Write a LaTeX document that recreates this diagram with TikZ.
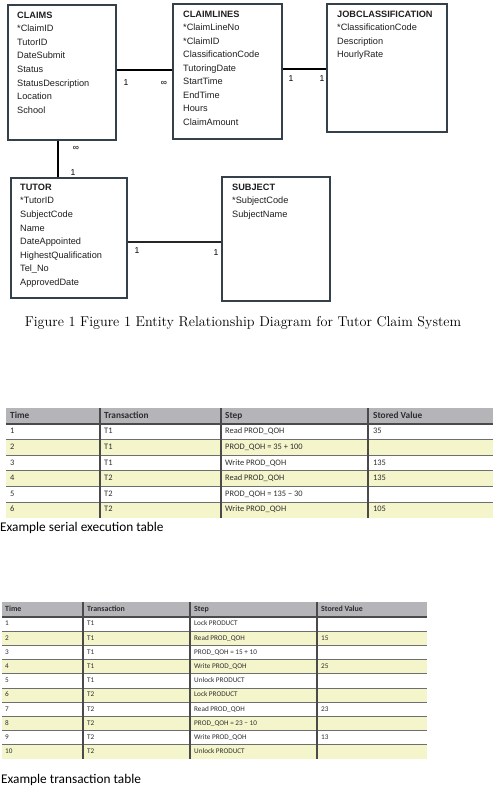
\documentclass[tikz,border=0pt]{standalone}
\usepackage{fontspec}
\newfontfamily\erfont{Liberation Sans}
\newfontfamily\tabfont{Carlito}
\usetikzlibrary{calc}
\definecolor{boxcol}{HTML}{34414B}
\definecolor{hdrgrey}{HTML}{B4B4B9}
\definecolor{rowyel}{HTML}{F5F5CB}
\definecolor{gridcol}{HTML}{4A4A4A}
\definecolor{txtcol}{HTML}{2E2E2E}
\tikzset{
  erbox/.style={draw=boxcol, line width=1.3pt, inner sep=0pt, fill=white},
  ertxt/.style={anchor=west, inner sep=0pt, font=\erfont\fontsize{9.2}{11}\selectfont, text=black!88, text height=6.6pt, text depth=1.9pt},
  conn/.style={line width=2pt, black},
  connthin/.style={line width=1.1pt, black!85},
  card/.style={inner sep=0pt, font=\erfont\fontsize{8.6}{10}\selectfont},
  tabhA/.style={anchor=west, inner sep=0pt, font=\tabfont\bfseries\fontsize{9.3}{11}\selectfont, text=txtcol, text height=6.4pt, text depth=1.7pt},
  tabcA/.style={anchor=west, inner sep=0pt, font=\tabfont\fontsize{8.4}{10}\selectfont, text=txtcol, text height=5.8pt, text depth=1.6pt},
  tabhB/.style={anchor=west, inner sep=0pt, font=\tabfont\bfseries\fontsize{7.9}{9}\selectfont, text=txtcol, text height=5.4pt, text depth=1.5pt},
  tabcB/.style={anchor=west, inner sep=0pt, font=\tabfont\fontsize{7.2}{8.5}\selectfont, text=txtcol, text height=5pt, text depth=1.4pt},
  vline/.style={gridcol, line width=1.3pt},
  hline/.style={gridcol!80, line width=0.8pt},
  caption/.style={inner sep=0pt, anchor=west, font=\tabfont\fontsize{13.3}{15}\selectfont, text=black}
}
\begin{document}
\begin{tikzpicture}[x=1pt,y=-1pt]
\useasboundingbox[fill=white] (0,0) rectangle (496,789);

% ---------------- ER diagram boxes ----------------
\node[erbox, minimum width=108pt, minimum height=135pt] (claims) at (62,72.5) {};
\node[erbox, minimum width=109pt, minimum height=135pt] (claimlines) at (227.5,71.5) {};
\node[erbox, minimum width=120pt, minimum height=128pt] (jobclass) at (387,68) {};
\node[erbox, minimum width=116pt, minimum height=120pt] (tutor) at (69,238) {};
\node[erbox, minimum width=108pt, minimum height=124pt] (subject) at (276,239) {};

\foreach \s [count=\k from 0] in {\textbf{CLAIMS},*ClaimID,TutorID,DateSubmit,Status,StatusDescription,Location,School}
  \node[ertxt] (claims-t\k) at (17,{16+13.55*\k}) {\s};
\foreach \s [count=\k from 0] in {\textbf{CLAIMLINES},*ClaimLineNo,*ClaimID,ClassificationCode,TutoringDate,StartTime,EndTime,Hours,ClaimAmount}
  \node[ertxt] (claimlines-t\k) at (183,{15+13.5*\k}) {\s};
\foreach \s [count=\k from 0] in {\textbf{JOBCLASSIFICATION},*ClassificationCode,Description,HourlyRate}
  \node[ertxt] (jobclass-t\k) at (337,{15+13.5*\k}) {\s};
\foreach \s [count=\k from 0] in {\textbf{TUTOR},*TutorID,SubjectCode,Name,DateAppointed,HighestQualification,Tel\_No,ApprovedDate}
  \node[ertxt] (tutor-t\k) at (20,{188+13.6*\k}) {\s};
\foreach \s [count=\k from 0] in {\textbf{SUBJECT},*SubjectCode,SubjectName}
  \node[ertxt] (subject-t\k) at (232,{188+13.5*\k}) {\s};

% ---------------- connectors ----------------
\coordinate (h1) at ($(claims.east)+(0,-2.5)$);
\draw[conn] (h1) -- (h1 -| claimlines.west);
\coordinate (h2) at ($(claimlines.east)+(0,-2.5)$);
\draw[conn] (h2) -- (h2 -| jobclass.west);
\coordinate (v1) at ($(claims.south)+(-4.5,0)$);
\draw[conn] (v1) -- (v1 |- tutor.north);
\coordinate (h3) at ($(tutor.east)+(0,4)$);
\draw[connthin] (h3) -- (h3 -| subject.west);

\node[card] (c1) at (126,83) {1};
\node[card] (c2) at (164,83) {∞};
\node[card] (c3) at (291,79) {1};
\node[card] (c4) at (322,79) {1};
\node[card] (c5) at (76,148) {∞};
\node[card] (c6) at (73,173) {1};
\node[card] (c7) at (137,251) {1};
\node[card] (c8) at (216,253) {1};

\node[inner sep=0pt, font=\fontsize{14.2}{16}\selectfont] (fig) at (243,323)
  {Figure 1 Figure 1 Entity Relationship Diagram for Tutor Claim System};

% ---------------- Table 1 ----------------
\fill[hdrgrey] (6,408) rectangle (493,424);
\foreach \i in {2,4,6} \fill[rowyel] (6,{424+15.6*(\i-1)}) rectangle (493,{424+15.6*\i});
\draw[gridcol, line width=1.2pt] (6,424) -- (493,424);
\foreach \i in {1,...,5} \draw[hline] (6,{424+15.6*\i}) -- (493,{424+15.6*\i});
\foreach \x in {100,221,368} \draw[vline] (\x,408) -- (\x,517.6);
\node[tabhA] (a-h1) at (10,416) {Time};
\node[tabhA] (a-h2) at (104,416) {Transaction};
\node[tabhA] (a-h3) at (225,416) {Step};
\node[tabhA] (a-h4) at (373,416) {Stored Value};
\foreach \t/\tr/\st/\sv [count=\i] in {1/T1/Read PROD\_QOH/35, 2/T1/PROD\_QOH = 35 + 100/, 3/T1/Write PROD\_QOH/135, 4/T2/Read PROD\_QOH/135, 5/T2/PROD\_QOH = 135 − 30/, 6/T2/Write PROD\_QOH/105}{
  \node[tabcA] (a-\i-1) at (10,{424+15.6*(\i-0.5)}) {\t};
  \node[tabcA] (a-\i-2) at (104,{424+15.6*(\i-0.5)}) {\tr};
  \node[tabcA] (a-\i-3) at (225,{424+15.6*(\i-0.5)}) {\st};
  \node[tabcA] (a-\i-4) at (373,{424+15.6*(\i-0.5)}) {\sv};
}
\node[caption] (capA) at (0,528) {Example serial execution table};

% ---------------- Table 2 ----------------
\fill[hdrgrey] (2,602) rectangle (427,617);
\foreach \i in {2,4,6,8,10} \fill[rowyel] (2,{617+14.2*(\i-1)}) rectangle (427,{617+14.2*\i});
\draw[gridcol, line width=1.2pt] (2,617) -- (427,617);
\foreach \i in {1,...,9} \draw[hline] (2,{617+14.2*\i}) -- (427,{617+14.2*\i});
\foreach \x in {83,190,317} \draw[vline] (\x,602) -- (\x,759);
\node[tabhB] (b-h1) at (5,609.5) {Time};
\node[tabhB] (b-h2) at (87,609.5) {Transaction};
\node[tabhB] (b-h3) at (194,609.5) {Step};
\node[tabhB] (b-h4) at (321,609.5) {Stored Value};
\foreach \t/\tr/\st/\sv [count=\i] in {1/T1/Lock PRODUCT/, 2/T1/Read PROD\_QOH/15, 3/T1/PROD\_QOH = 15 + 10/, 4/T1/Write PROD\_QOH/25, 5/T1/Unlock PRODUCT/, 6/T2/Lock PRODUCT/, 7/T2/Read PROD\_QOH/23, 8/T2/PROD\_QOH = 23 − 10/, 9/T2/Write PROD\_QOH/13, 10/T2/Unlock PRODUCT/}{
  \node[tabcB] (b-\i-1) at (5,{617+14.2*(\i-0.5)}) {\t};
  \node[tabcB] (b-\i-2) at (87,{617+14.2*(\i-0.5)}) {\tr};
  \node[tabcB] (b-\i-3) at (194,{617+14.2*(\i-0.5)}) {\st};
  \node[tabcB] (b-\i-4) at (321,{617+14.2*(\i-0.5)}) {\sv};
}
\node[caption] (capB) at (1,780) {Example transaction table};
\end{tikzpicture}
\end{document}
